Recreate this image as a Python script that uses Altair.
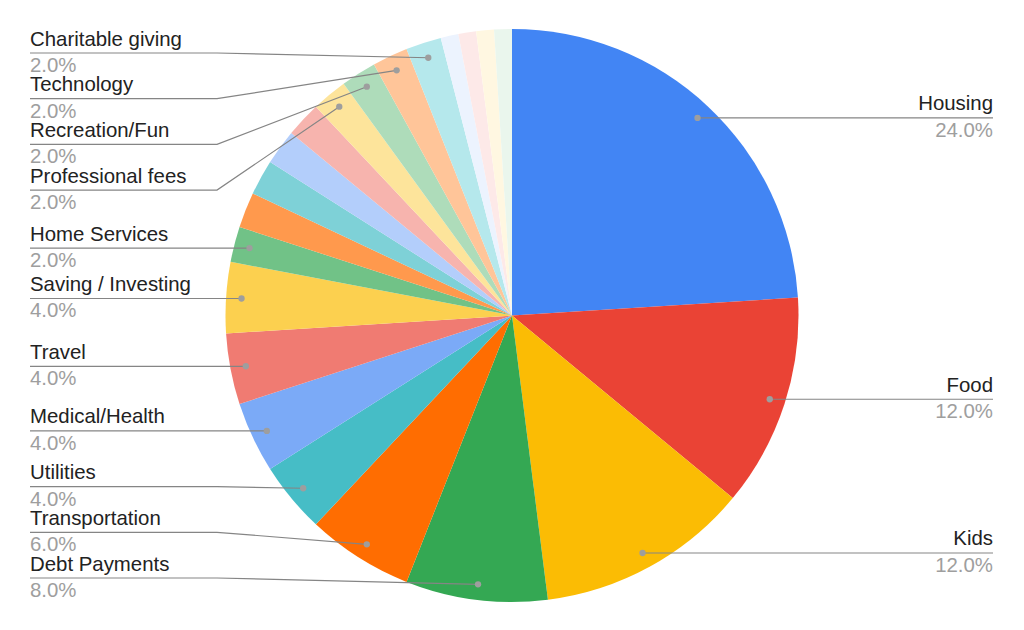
import math
import pandas as pd
import altair as alt

# slices, clockwise from 12 o'clock
categories = ['Housing', 'Food', 'Kids', 'Debt Payments', 'Transportation', 'Utilities',
              'Medical/Health', 'Travel', 'Saving / Investing', 'Home Services',
              'Other 1', 'Other 2', 'Other 3', 'Other 4',
              'Professional fees', 'Recreation/Fun', 'Technology', 'Charitable giving',
              'Other 5', 'Other 6', 'Other 7', 'Other 8']
values = [24, 12, 12, 8, 6, 4, 4, 4, 4, 2, 2, 2, 2, 2, 2, 2, 2, 2, 1, 1, 1, 1]
colors = ['#4285F4', '#EA4335', '#FBBC04', '#34A853', '#FF6D01', '#46BDC6',
          '#7BAAF7', '#F07B72', '#FCD04F', '#71C287', '#FF994D', '#7ED1D7',
          '#B3CEFB', '#F7B4AE', '#FDE49B', '#AEDCBA', '#FFC599', '#B5E8EC',
          '#ECF3FE', '#FDE9E8', '#FFF7E1', '#EAF6ED']
# slices that get a label (the rest were too thin for one)
labeled = ['Housing', 'Food', 'Kids', 'Debt Payments', 'Transportation', 'Utilities',
           'Medical/Health', 'Travel', 'Saving / Investing', 'Home Services',
           'Professional fees', 'Recreation/Fun', 'Technology', 'Charitable giving']

W, H = 1008, 615
cx, cy = W / 2, H / 2
R = 286.5
R_DOT = 271
GAP = 45.7          # vertical room one label needs
TOP, BOTTOM = 45, 570
LEFT_X, RIGHT_X = 22, 985
ELBOW = 209

slices = pd.DataFrame({'category': categories, 'value': values, 'idx': range(len(values))})
total = slices['value'].sum()
slices['mid'] = slices['value'].cumsum() - slices['value'] / 2
slices['angle'] = slices['mid'] / total * 2 * math.pi
slices['dot_x'] = cx + R_DOT * slices['angle'].apply(math.sin)
slices['dot_y'] = cy - R_DOT * slices['angle'].apply(math.cos)
slices['pct'] = (slices['value'] / total * 100).map(lambda v: f'{v:.1f}%')

lab = slices[slices['category'].isin(labeled)].copy()
lab['side'] = ['left' if x < cx else 'right' for x in lab['dot_x']]
lab['line_y'] = lab['dot_y']

# push labels apart so they don't overlap
for side in ['left', 'right']:
    s = lab[lab['side'] == side].sort_values('dot_y')
    ys = list(s['dot_y'])
    if not ys:
        continue
    # a crowded top group starts from the top limit
    if len(ys) > 1 and ys[1] - ys[0] < GAP:
        ys[0] = min(ys[0], TOP)
    for i in range(1, len(ys)):
        ys[i] = max(ys[i], ys[i - 1] + GAP)
    ys[-1] = min(ys[-1], BOTTOM)
    for i in range(len(ys) - 2, -1, -1):
        ys[i] = min(ys[i], ys[i + 1] - GAP)
    lab.loc[s.index, 'line_y'] = ys

lab['text_x'] = [LEFT_X if s == 'left' else RIGHT_X for s in lab['side']]
lab['elbow_x'] = [ELBOW if s == 'left' else W - ELBOW for s in lab['side']]

rows = []
for _, r in lab.iterrows():
    rows.append({'category': r['category'], 'o': 0, 'x': r['text_x'], 'y': r['line_y']})
    rows.append({'category': r['category'], 'o': 1, 'x': r['elbow_x'], 'y': r['line_y']})
    rows.append({'category': r['category'], 'o': 2, 'x': r['dot_x'], 'y': r['dot_y']})
leaders = pd.DataFrame(rows)

xs = alt.Scale(domain=[0, W])
ys = alt.Scale(domain=[0, H], reverse=True)

pie = alt.Chart(slices).mark_arc(outerRadius=R).encode(
    theta=alt.Theta('value:Q', stack=True),
    color=alt.Color('category:N', scale=alt.Scale(domain=categories, range=colors), legend=None),
    order=alt.Order('idx:Q'),
    x=alt.value(cx), y=alt.value(cy)
)

lines = alt.Chart(leaders).mark_line(color='#858585', strokeWidth=1.2).encode(
    x=alt.X('x:Q', scale=xs, axis=None),
    y=alt.Y('y:Q', scale=ys, axis=None),
    detail='category:N',
    order='o:Q'
)

dots = alt.Chart(lab).mark_circle(color='#9e9e9e', size=40, opacity=1).encode(
    x=alt.X('dot_x:Q', scale=xs, axis=None),
    y=alt.Y('dot_y:Q', scale=ys, axis=None)
)

def label_layer(side, align):
    base = alt.Chart(lab).transform_filter(alt.datum.side == side)
    enc = dict(x=alt.X('text_x:Q', scale=xs, axis=None), y=alt.Y('line_y:Q', scale=ys, axis=None))
    name = base.mark_text(align=align, baseline='alphabetic', dy=-7.5, fontSize=20.4,
                          font='Liberation Sans', color='#222222').encode(text='category:N', **enc)
    pct = base.mark_text(align=align, baseline='alphabetic', dy=19, fontSize=20.4,
                         font='Liberation Sans', color='#9e9e9e').encode(text='pct:N', **enc)
    return name + pct

chart = alt.layer(pie, lines, dots, label_layer('left', 'left'), label_layer('right', 'right')).properties(
    width=W, height=H, padding=0, autosize=alt.AutoSizeParams(type='none')
).configure_view(stroke=None)

chart.save("out.html", embed_options={"renderer": "svg", "actions": False})
